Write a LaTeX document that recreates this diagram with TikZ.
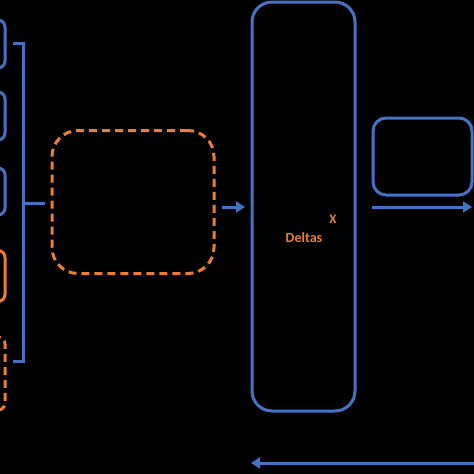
\documentclass[tikz,border=0pt]{standalone}
\usepackage{fontspec}
\setmainfont{Carlito}
\usetikzlibrary{arrows.meta}
\definecolor{myblue}{HTML}{4472C4}
\definecolor{myorange}{HTML}{ED7D31}
\tikzset{
  bbox/.style={draw=myblue, line width=3pt, rounded corners=#1, inner sep=0pt, outer sep=0pt},
  obox/.style={draw=myorange, line width=3pt, rounded corners=#1, inner sep=0pt, outer sep=0pt},
  obdash/.style={obox=#1, dash pattern=on 8pt off 5pt},
  arr/.style={draw=myblue, line width=3pt, -{Triangle[length=9pt,width=11pt]}},
  brk/.style={draw=myblue, line width=3pt},
  lbl/.style={text=myorange, inner sep=0pt}
}
\begin{document}
\begin{tikzpicture}[x=1pt,y=-1pt]
\fill[black] (0,0) rectangle (474,474);
\useasboundingbox (0,0) rectangle (474,474);
\clip (0,0) rectangle (474,474);
% left partially visible boxes
\node[bbox=7pt, minimum width=45pt, minimum height=48pt] (l1) at (-17.5,44) {};
\node[bbox=7pt, minimum width=45pt, minimum height=48pt] (l2) at (-17.5,116) {};
\node[bbox=7pt, minimum width=45pt, minimum height=47pt] (l3) at (-17.5,191.5) {};
\node[obox=7pt, minimum width=45pt, minimum height=51pt] (l4) at (-17.5,276) {};
\node[obdash=7pt, minimum width=45pt, minimum height=73pt] (l5) at (-17.5,373.5) {};
% bracket
\coordinate (bt) at (13,43);
\coordinate (bb) at (13,361);
\coordinate (bm) at (23,203);
\coordinate (bs) at (45,203);
\draw[brk] (bt) -- (23,43) -- (23,361) -- (bb);
\draw[brk] (bm) -- (bs);
% dashed orange box
\node[obdash=26pt, minimum width=162pt, minimum height=143pt] (enc) at (133,202) {};
% big blue box
\node[bbox=20pt, minimum width=103pt, minimum height=409pt] (big) at (303.5,206.5) {};
\node[lbl, font=\bfseries\fontsize{13}{13}\selectfont] (x) at (333,219) {X};
\node[lbl, font=\bfseries\fontsize{14}{14}\selectfont] (deltas) at (304,237.5) {Deltas};
% right box
\node[bbox=13pt, minimum width=99pt, minimum height=77pt] (rb) at (422.5,156.5) {};
% arrows
\coordinate (a1s) at (222,207);
\coordinate (a1e) at (245,207);
\draw[arr] (a1s) -- (a1e);
\coordinate (a2s) at (372,207);
\coordinate (a2e) at (472,207);
\draw[arr] (a2s) -- (a2e);
\coordinate (a3s) at (476,463);
\coordinate (a3e) at (251,463);
\draw[arr] (a3s) -- (a3e);
\end{tikzpicture}
\end{document}
